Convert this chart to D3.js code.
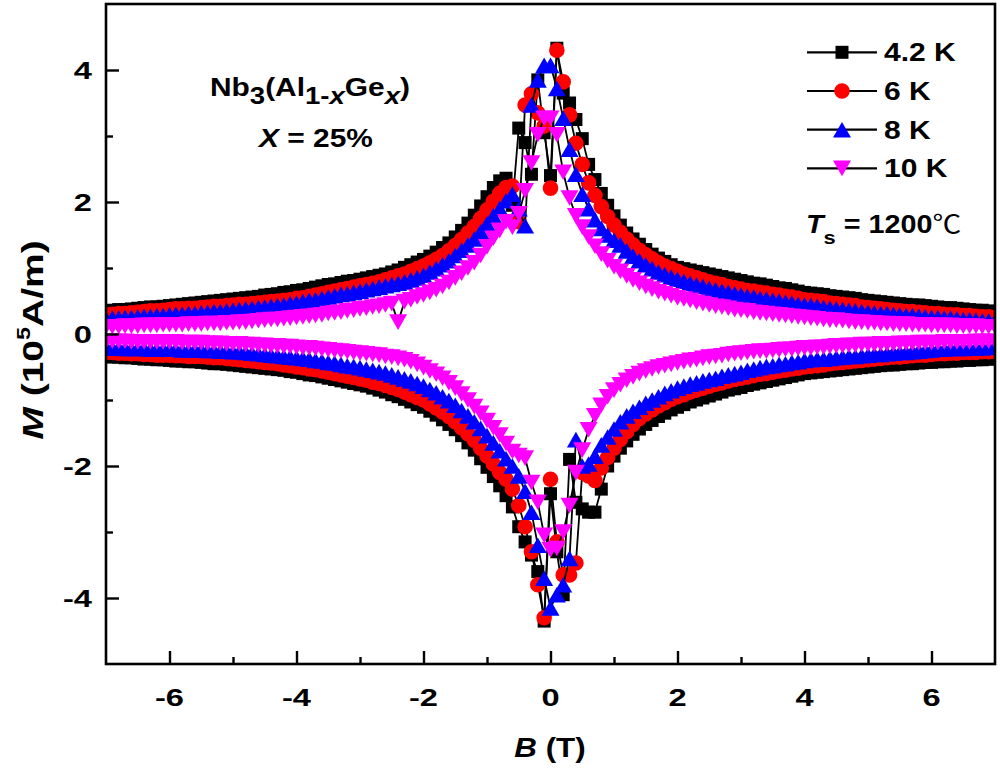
<!DOCTYPE html>
<html><head><meta charset="utf-8">
<script src="https://cdn.jsdelivr.net/npm/d3@7"></script>
<style>body{margin:0;background:#fff}</style>
</head><body>
<svg id="c" width="1000" height="776"></svg>
<script>
// ---------- data ----------
const fieldB = [-7,-6.9,-6.8,-6.7,-6.6,-6.5,-6.4,-6.3,-6.2,-6.1,-6,-5.9,-5.8,-5.7,-5.6,-5.5,-5.4,-5.3,-5.2,-5.1,
-5,-4.9,-4.8,-4.7,-4.6,-4.5,-4.4,-4.3,-4.2,-4.1,-4,-3.9,-3.8,-3.7,-3.6,-3.5,-3.4,-3.3,-3.2,-3.1,
-3,-2.9,-2.8,-2.7,-2.6,-2.5,-2.4,-2.3,-2.2,-2.1,-2,-1.9,-1.8,-1.7,-1.6,-1.5,-1.4,-1.3,-1.2,-1.1,
-1,-0.9,-0.8,-0.7,-0.6,-0.5,-0.4,-0.3,-0.2,-0.1,0,
0.1,0.2,0.3,0.4,0.5,0.6,0.7,0.8,0.9,1,1.1,1.2,1.3,1.4,1.5,1.6,1.7,1.8,1.9,2,
2.1,2.2,2.3,2.4,2.5,2.6,2.7,2.8,2.9,3,3.1,3.2,3.3,3.4,3.5,3.6,3.7,3.8,3.9,4,
4.1,4.2,4.3,4.4,4.5,4.6,4.7,4.8,4.9,5,5.1,5.2,5.3,5.4,5.5,5.6,5.7,5.8,5.9,6,
6.1,6.2,6.3,6.4,6.5,6.6,6.7,6.8,6.9,7];

// upper branches (field sweeping down), values listed for fieldB ascending
const upper42 = [0.35,0.36,0.37,0.37,0.38,0.39,0.40,0.41,0.41,0.42,
0.43,0.44,0.45,0.46,0.47,0.48,0.49,0.50,0.51,0.52,
0.53,0.54,0.55,0.56,0.57,0.59,0.60,0.61,0.63,0.64,
0.66,0.67,0.69,0.71,0.73,0.75,0.76,0.78,0.80,0.81,
0.83,0.85,0.87,0.89,0.91,0.94,0.97,1.01,1.05,1.09,
1.13,1.18,1.24,1.31,1.38,1.47,1.57,1.68,1.80,1.94,
2.08,2.22,2.32,2.36,1.95,3.12,2.90,2.42,3.85,3.05,
2.40,
4.33,3.65,3.50,3.25,2.96,2.57,2.34,2.13,1.95,1.79,
1.65,1.53,1.44,1.36,1.28,1.21,1.15,1.10,1.05,1.01,
0.99,0.97,0.95,0.93,0.91,0.89,0.87,0.85,0.83,0.81,
0.79,0.77,0.76,0.74,0.72,0.70,0.69,0.67,0.65,0.63,
0.62,0.61,0.60,0.58,0.57,0.56,0.55,0.54,0.52,0.51,
0.50,0.49,0.48,0.47,0.46,0.45,0.44,0.44,0.43,0.42,
0.41,0.40,0.40,0.39,0.38,0.37,0.36,0.36,0.35,0.34];
const upper6 = [0.29,0.30,0.31,0.31,0.32,0.33,0.34,0.35,0.35,0.36,
0.37,0.38,0.38,0.39,0.39,0.40,0.41,0.42,0.42,0.43,
0.44,0.45,0.45,0.46,0.47,0.48,0.49,0.50,0.51,0.52,
0.54,0.55,0.57,0.59,0.61,0.63,0.65,0.67,0.69,0.71,
0.73,0.75,0.77,0.79,0.82,0.85,0.88,0.91,0.95,0.99,
1.03,1.08,1.13,1.19,1.26,1.34,1.43,1.53,1.63,1.75,
1.88,2.01,2.13,2.22,2.24,1.70,3.47,3.64,3.35,3.15,
2.21,
4.30,3.82,3.32,2.89,2.57,2.29,2.10,1.93,1.78,1.65,
1.54,1.44,1.35,1.27,1.20,1.14,1.08,1.03,0.99,0.95,
0.91,0.88,0.85,0.82,0.79,0.77,0.75,0.72,0.70,0.68,
0.66,0.65,0.63,0.62,0.60,0.59,0.57,0.56,0.54,0.52,
0.51,0.50,0.49,0.47,0.46,0.45,0.44,0.43,0.41,0.40,
0.39,0.38,0.37,0.36,0.35,0.34,0.34,0.33,0.32,0.31,
0.31,0.30,0.29,0.29,0.28,0.28,0.27,0.26,0.26,0.25];
const upper8 = [0.23,0.24,0.24,0.25,0.25,0.26,0.27,0.27,0.28,0.28,
0.29,0.30,0.30,0.31,0.31,0.32,0.33,0.34,0.34,0.35,
0.36,0.37,0.38,0.39,0.40,0.41,0.42,0.43,0.44,0.46,
0.47,0.49,0.51,0.52,0.54,0.56,0.58,0.60,0.61,0.63,
0.65,0.67,0.69,0.71,0.73,0.75,0.77,0.79,0.82,0.85,
0.89,0.94,0.99,1.05,1.11,1.19,1.27,1.35,1.44,1.55,
1.67,1.79,1.90,2.02,2.12,1.90,1.64,3.47,3.85,4.07,
4.07,
3.72,3.27,2.80,2.42,2.12,1.90,1.73,1.60,1.50,1.42,
1.35,1.26,1.18,1.11,1.05,0.99,0.94,0.90,0.86,0.83,
0.80,0.77,0.74,0.72,0.69,0.67,0.65,0.63,0.61,0.59,
0.57,0.56,0.54,0.53,0.51,0.50,0.48,0.47,0.45,0.44,
0.43,0.42,0.40,0.39,0.38,0.37,0.36,0.35,0.34,0.33,
0.32,0.31,0.31,0.30,0.29,0.28,0.28,0.27,0.26,0.25,
0.25,0.24,0.24,0.23,0.22,0.22,0.21,0.20,0.20,0.19];
const upper10 = [0.11,0.11,0.11,0.12,0.12,0.12,0.13,0.13,0.13,0.14,
0.14,0.14,0.14,0.15,0.15,0.15,0.16,0.16,0.16,0.17,
0.17,0.18,0.18,0.19,0.20,0.21,0.22,0.22,0.23,0.24,
0.25,0.26,0.27,0.28,0.29,0.31,0.32,0.33,0.35,0.36,
0.38,0.39,0.41,0.42,0.44,0.46,0.18,0.49,0.52,0.56,
0.59,0.63,0.67,0.72,0.78,0.85,0.92,1.00,1.08,1.19,
1.32,1.45,1.57,1.70,1.62,1.82,2.17,2.59,3.02,3.27,
3.27,
3.02,2.45,2.06,1.79,1.62,1.47,1.33,1.21,1.11,1.02,
0.95,0.88,0.82,0.77,0.72,0.68,0.64,0.61,0.58,0.55,
0.53,0.51,0.48,0.46,0.44,0.42,0.41,0.39,0.37,0.36,
0.35,0.33,0.32,0.31,0.30,0.29,0.28,0.27,0.26,0.25,
0.24,0.23,0.22,0.21,0.21,0.20,0.19,0.18,0.18,0.17,
0.17,0.16,0.16,0.15,0.15,0.15,0.14,0.14,0.14,0.13,
0.13,0.13,0.13,0.12,0.12,0.12,0.12,0.11,0.11,0.11];

// lower branches (field sweeping up), values listed for fieldB ascending
const lower42 = [-0.34,-0.35,-0.35,-0.36,-0.36,-0.37,-0.38,-0.38,-0.39,-0.39,
-0.40,-0.41,-0.41,-0.42,-0.42,-0.43,-0.44,-0.45,-0.45,-0.46,
-0.47,-0.48,-0.49,-0.50,-0.51,-0.52,-0.53,-0.54,-0.55,-0.57,
-0.58,-0.60,-0.62,-0.63,-0.65,-0.67,-0.69,-0.71,-0.73,-0.75,
-0.77,-0.79,-0.82,-0.85,-0.88,-0.92,-0.95,-0.99,-1.03,-1.07,
-1.11,-1.17,-1.23,-1.30,-1.37,-1.45,-1.54,-1.65,-1.76,-1.89,
-2.02,-2.16,-2.30,-2.45,-2.62,-2.92,-3.15,-3.35,-3.60,-4.35,
-2.42,
-3.30,-3.95,-1.90,-2.55,-2.65,-2.70,-2.70,-2.35,-2.00,-1.85,
-1.73,-1.62,-1.52,-1.44,-1.37,-1.31,-1.25,-1.20,-1.15,-1.11,
-1.07,-1.03,-1.00,-0.97,-0.94,-0.91,-0.88,-0.85,-0.83,-0.81,
-0.78,-0.76,-0.74,-0.72,-0.70,-0.68,-0.66,-0.64,-0.62,-0.60,
-0.59,-0.58,-0.57,-0.56,-0.55,-0.54,-0.53,-0.52,-0.51,-0.50,
-0.49,-0.48,-0.47,-0.47,-0.46,-0.45,-0.45,-0.44,-0.43,-0.43,
-0.42,-0.42,-0.41,-0.41,-0.40,-0.40,-0.39,-0.39,-0.38,-0.38];
const lower6 = [-0.28,-0.28,-0.29,-0.29,-0.30,-0.30,-0.31,-0.31,-0.32,-0.32,
-0.32,-0.33,-0.33,-0.34,-0.34,-0.34,-0.35,-0.36,-0.36,-0.37,
-0.38,-0.39,-0.40,-0.41,-0.42,-0.43,-0.44,-0.45,-0.47,-0.48,
-0.50,-0.51,-0.53,-0.54,-0.56,-0.58,-0.60,-0.62,-0.64,-0.66,
-0.68,-0.70,-0.73,-0.75,-0.78,-0.81,-0.84,-0.88,-0.92,-0.96,
-1.00,-1.06,-1.12,-1.18,-1.25,-1.33,-1.42,-1.51,-1.61,-1.73,
-1.85,-1.97,-2.10,-2.20,-2.35,-2.60,-2.92,-3.30,-3.80,-4.30,
-2.20,
-3.15,-3.65,-3.65,-3.47,-2.10,-2.15,-2.22,-2.03,-1.87,-1.73,
-1.60,-1.48,-1.37,-1.28,-1.21,-1.15,-1.09,-1.04,-0.99,-0.95,
-0.92,-0.88,-0.85,-0.82,-0.79,-0.76,-0.74,-0.71,-0.69,-0.67,
-0.65,-0.63,-0.61,-0.60,-0.58,-0.56,-0.55,-0.53,-0.52,-0.50,
-0.49,-0.48,-0.47,-0.45,-0.44,-0.43,-0.42,-0.41,-0.40,-0.39,
-0.38,-0.37,-0.36,-0.35,-0.35,-0.34,-0.33,-0.32,-0.32,-0.31,
-0.30,-0.30,-0.29,-0.29,-0.28,-0.28,-0.28,-0.27,-0.27,-0.27];
const lower8 = [-0.21,-0.21,-0.21,-0.22,-0.22,-0.22,-0.22,-0.23,-0.23,-0.23,
-0.23,-0.23,-0.24,-0.24,-0.24,-0.24,-0.25,-0.25,-0.26,-0.26,
-0.27,-0.27,-0.28,-0.29,-0.30,-0.31,-0.32,-0.33,-0.34,-0.35,
-0.36,-0.37,-0.38,-0.40,-0.41,-0.43,-0.44,-0.46,-0.48,-0.49,
-0.51,-0.53,-0.55,-0.57,-0.59,-0.62,-0.65,-0.68,-0.71,-0.75,
-0.79,-0.84,-0.89,-0.95,-1.01,-1.08,-1.16,-1.24,-1.33,-1.43,
-1.54,-1.65,-1.77,-1.89,-2.00,-2.15,-2.38,-2.70,-3.20,-3.70,
-4.15,
-3.95,-3.80,-3.40,-1.60,-2.00,-1.97,-1.85,-1.68,-1.56,-1.44,
-1.33,-1.24,-1.17,-1.11,-1.05,-1.00,-0.95,-0.90,-0.86,-0.82,
-0.79,-0.76,-0.74,-0.71,-0.69,-0.67,-0.64,-0.62,-0.60,-0.58,
-0.55,-0.53,-0.51,-0.49,-0.48,-0.46,-0.45,-0.43,-0.42,-0.40,
-0.39,-0.38,-0.38,-0.37,-0.36,-0.35,-0.34,-0.34,-0.33,-0.32,
-0.31,-0.31,-0.30,-0.29,-0.28,-0.28,-0.27,-0.26,-0.25,-0.24,
-0.23,-0.23,-0.22,-0.22,-0.22,-0.21,-0.21,-0.21,-0.20,-0.20];
const lower10 = [-0.11,-0.11,-0.11,-0.11,-0.12,-0.12,-0.12,-0.12,-0.12,-0.12,
-0.12,-0.12,-0.13,-0.13,-0.13,-0.13,-0.14,-0.14,-0.14,-0.15,
-0.15,-0.15,-0.16,-0.16,-0.17,-0.17,-0.18,-0.18,-0.19,-0.19,
-0.20,-0.21,-0.21,-0.22,-0.23,-0.24,-0.25,-0.26,-0.27,-0.28,
-0.29,-0.30,-0.31,-0.32,-0.34,-0.35,-0.37,-0.39,-0.42,-0.46,
-0.51,-0.56,-0.61,-0.67,-0.74,-0.82,-0.91,-1.00,-1.10,-1.20,
-1.31,-1.42,-1.53,-1.66,-1.78,-1.84,-1.88,-2.25,-2.55,-3.05,
-3.27,
-3.25,-3.00,-2.60,-2.10,-1.76,-1.45,-1.24,-1.08,-0.95,-0.85,
-0.77,-0.70,-0.65,-0.60,-0.56,-0.53,-0.50,-0.48,-0.46,-0.44,
-0.42,-0.40,-0.39,-0.37,-0.35,-0.34,-0.33,-0.31,-0.30,-0.29,
-0.28,-0.27,-0.26,-0.26,-0.25,-0.24,-0.23,-0.23,-0.22,-0.21,
-0.21,-0.20,-0.20,-0.19,-0.18,-0.18,-0.17,-0.17,-0.16,-0.16,
-0.16,-0.15,-0.15,-0.15,-0.14,-0.14,-0.14,-0.13,-0.13,-0.13,
-0.13,-0.12,-0.12,-0.12,-0.12,-0.12,-0.11,-0.11,-0.11,-0.11];

const seriesLabels = ["4.2 K", "6 K", "8 K", "10 K"];
const seriesColors = ["#000000", "#ff0000", "#0000ff", "#ff00ff"];
const seriesShapes = ["square", "circle", "triangleUp", "triangleDown"];
const upperBranches = [upper42, upper6, upper8, upper10];
const lowerBranches = [lower42, lower6, lower8, lower10];

const xTicks = [-6, -4, -2, 0, 2, 4, 6];
const xMinor = [-5, -3, -1, 1, 3, 5];
const yTicks = [-4, -2, 0, 2, 4];
const yMinor = [-3, -1, 1, 3];

// ---------- layout ----------
const L = 106, R = 995, T = 4, B = 664;
const FONT = "'Liberation Sans', Arial, Helvetica, sans-serif";
const svg = d3.select("#c");
const x = d3.scaleLinear().domain([-7, 7]).range([L, R]);
const y = d3.scaleLinear().domain([-5, 5]).range([B, T]);

function shapePath(kind) {
  if (kind === "square") { const h = 6.5; return `M${-h},${-h}H${h}V${h}H${-h}Z`; }
  if (kind === "circle") { const r = 7.8; return `M${-r},0A${r},${r} 0 1,0 ${r},0A${r},${r} 0 1,0 ${-r},0Z`; }
  const w = 9, h = 7.8;
  if (kind === "triangleUp") return `M0,${-h}L${w},${h}L${-w},${h}Z`;
  return `M0,${h}L${w},${-h}L${-w},${-h}Z`;
}

svg.append("defs").append("clipPath").attr("id", "plotclip")
  .append("rect").attr("x", L).attr("y", T).attr("width", R - L).attr("height", B - T);

const plot = svg.append("g").attr("clip-path", "url(#plotclip)");
const line = d3.line().x(d => x(d[0])).y(d => y(d[1]));

seriesLabels.forEach((lab, s) => {
  const up = fieldB.map((b, i) => [b, upperBranches[s][i]]).reverse();
  const low = fieldB.map((b, i) => [b, lowerBranches[s][i]]);
  const pts = up.concat(low);
  const g = plot.append("g");
  g.append("path").datum(pts).attr("d", line)
    .attr("fill", "none").attr("stroke", "#000").attr("stroke-width", 1.8);
  g.selectAll("path.m").data(pts).enter().append("path").attr("class", "m")
    .attr("d", shapePath(seriesShapes[s]))
    .attr("transform", d => `translate(${x(d[0])},${y(d[1])})`)
    .attr("fill", seriesColors[s]);
});

// ---------- axes ----------
function styleAxis(g) {
  g.select(".domain").remove();
  g.selectAll("line").attr("stroke", "#000").attr("stroke-width", 2.4);
  g.selectAll("text").remove();
}
svg.append("g").attr("transform", `translate(0,${B})`)
  .call(d3.axisBottom(x).tickValues(xTicks).tickSize(-13)).call(styleAxis);
svg.append("g").attr("transform", `translate(0,${B})`)
  .call(d3.axisBottom(x).tickValues(xMinor).tickSize(-7)).call(styleAxis);
svg.append("g").attr("transform", `translate(${L},0)`)
  .call(d3.axisLeft(y).tickValues(yTicks).tickSize(-13)).call(styleAxis);
svg.append("g").attr("transform", `translate(${L},0)`)
  .call(d3.axisLeft(y).tickValues(yMinor).tickSize(-7)).call(styleAxis);

svg.append("rect").attr("x", L).attr("y", T).attr("width", R - L).attr("height", B - T)
  .attr("fill", "none").attr("stroke", "#000").attr("stroke-width", 2.6);

// ---------- text helper ----------
function label(x0, y0, sx, size, anchor, parts, rot) {
  const t = svg.append("text")
    .attr("transform", `translate(${x0},${y0})` + (rot ? ` rotate(${rot})` : "") + ` scale(${sx},1)`)
    .attr("text-anchor", anchor).attr("font-family", FONT)
    .attr("font-weight", "bold").attr("font-size", size).attr("fill", "#000");
  let shift = 0;
  parts.forEach(p => {
    const ts = t.append("tspan").text(p.t);
    const target = p.dy || 0;
    if (target - shift !== 0) ts.attr("dy", target - shift);
    shift = target;
    if (p.it) ts.attr("font-style", "italic");
    if (p.fs) ts.attr("font-size", p.fs);
    if (p.ff) ts.attr("font-family", p.ff);
    if (p.fw) ts.attr("font-weight", p.fw);
  });
  return t;
}

xTicks.forEach(d => label(x(d), 706, 1.36, 24, "middle", [{ t: String(d) }]));
yTicks.forEach(d => label(92, y(d) + 8.5, 1.36, 24, "end", [{ t: String(d) }]));

label(550, 757, 1.12, 28, "middle", [{ t: "B", it: true }, { t: " (T)" }]);
label(43, 340, 1.3, 30, "middle",
  [{ t: "M", it: true }, { t: " (10" }, { t: "5", fs: 18, dy: -13 }, { t: "A/m)", dy: 0 }], -90);

label(310, 96, 1.15, 26, "middle", [
  { t: "Nb" }, { t: "3", fs: 24, dy: 8 }, { t: "(Al", dy: 0 },
  { t: "1-", fs: 24, dy: 8 }, { t: "x", fs: 24, dy: 8, it: true },
  { t: "Ge", dy: 0 }, { t: "x", fs: 24, dy: 8, it: true }, { t: ")", dy: 0 }]);
label(316, 147, 1.15, 26, "middle", [{ t: "X", it: true }, { t: " = 25%" }]);

// ---------- legend ----------
const legX1 = 807, legX2 = 877, legSym = 842, legText = 884, legY0 = 52.3, legDY = 38.7;
seriesLabels.forEach((lab, s) => {
  const yy = legY0 + s * legDY;
  svg.append("line").attr("x1", legX1).attr("x2", legX2).attr("y1", yy).attr("y2", yy)
    .attr("stroke", "#000").attr("stroke-width", 2.2);
  svg.append("path").attr("d", shapePath(seriesShapes[s]))
    .attr("transform", `translate(${legSym},${yy})`).attr("fill", seriesColors[s]);
  label(legText, yy + 9, 1.2, 25, "start", [{ t: lab }]);
});
label(806, 233, 1.15, 25, "start", [
  { t: "T", it: true }, { t: "s", fs: 19, dy: 11 }, { t: " = 1200", dy: 0 },
  { t: "℃", ff: "'Noto Sans CJK SC', 'Noto Sans', sans-serif", fw: "normal" }]);
</script>
</body></html>
